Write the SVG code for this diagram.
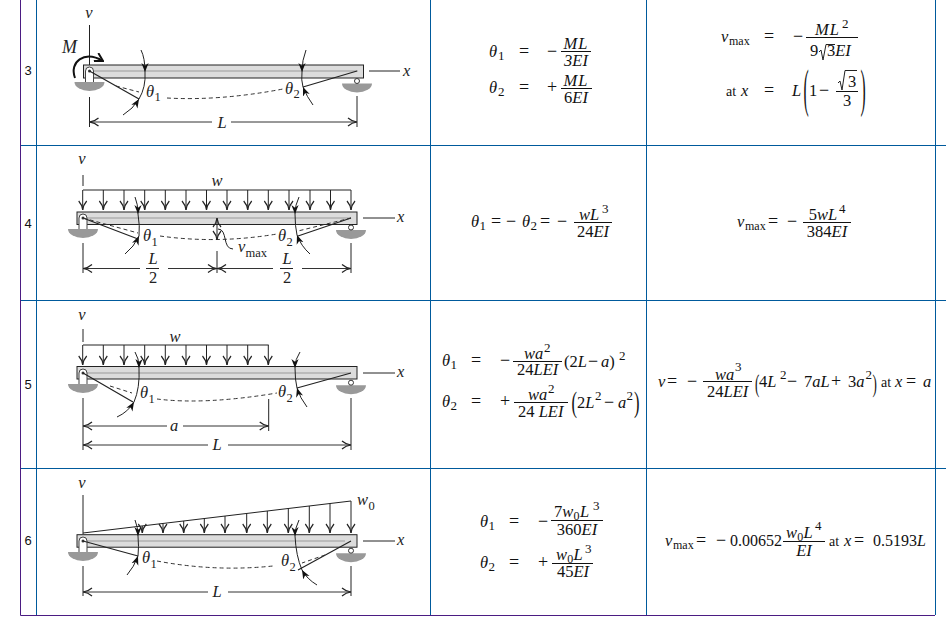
<svg xmlns="http://www.w3.org/2000/svg" xmlns:xlink="http://www.w3.org/1999/xlink" width="946" height="617" viewBox="0 0 946 617">
<style>
text{font-family:"Liberation Serif","Times New Roman",serif;fill:#111;font-size:16.5px}
.i{font-style:italic}
.c{text-anchor:middle}
.s{font-size:13px}
.m{font-size:12px}
.e{font-size:18px}
.w{font-size:16px}
.n{font-family:"Liberation Sans",Arial,sans-serif;font-size:13px}
.f{font-size:16.5px;fill:#222}
.fs{font-size:12.5px;fill:#222}
.at{font-size:14px}
.g{stroke:#005a9c;stroke-width:1;fill:none}
.p{stroke:#4b1c82;stroke-width:1;fill:none}
.bar{stroke:#111;stroke-width:1;fill:none}
.beam{fill:#dcdcdc;stroke:#222;stroke-width:1}
.mid{stroke:#9a9a9a;stroke-width:1;fill:none}
.l{stroke:#222;stroke-width:1;fill:none}
.sl{stroke:#222;stroke-width:1.2;fill:none}
.d{stroke:#333;stroke-width:1;fill:none;stroke-dasharray:4 3}
.dl{stroke:#333;stroke-width:1;fill:none;marker-end:url(#open)}
.dr{stroke:#333;stroke-width:1;fill:none;marker-start:url(#open)}
.lo{stroke:#222;stroke-width:1;fill:none;marker-end:url(#open)}
.ar{stroke:#222;stroke-width:1;fill:none;marker-end:url(#dart)}
</style>
<defs>
<marker id="open" viewBox="0 0 10 10" refX="10" refY="5" markerWidth="10" markerHeight="10" markerUnits="userSpaceOnUse" orient="auto-start-reverse"><path d="M1,1 Q5,4.5 10,5 Q5,5.5 1,9" fill="none" stroke="#222" stroke-width="1.2"/></marker>
<marker id="dart" viewBox="0 0 10 10" refX="10" refY="5" markerWidth="9" markerHeight="9" markerUnits="userSpaceOnUse" orient="auto"><path d="M0,1 L10,5 L0,9 L3,5 Z" fill="#111"/></marker>
<marker id="mom" viewBox="0 0 10 10" refX="9" refY="5" markerWidth="10" markerHeight="10" markerUnits="userSpaceOnUse" orient="auto"><path d="M1,0.5 L9,5 L1,9.5" fill="none" stroke="#111" stroke-width="2"/></marker>
<g id="pin">
<path d="M-15,11 H15 A15,9 0 0 1 -15,11 Z" fill="#999"/>
<path d="M-4,11 V0 A4,4 0 0 1 4,0 V11" fill="#fff" stroke="#444" stroke-width="1"/>
<circle r="1.5" fill="#333"/>
</g>
<g id="roller">
<path d="M-15,2.5 H15 A15,9 0 0 1 -15,2.5 Z" fill="#999"/>
<circle r="2.5" fill="#fff" stroke="#333" stroke-width="1"/>
</g>
</defs>
<rect width="946" height="617" fill="#fff"/>
<g id="grid">
<path class="g" d="M36.5,0V615M430.5,0V615M646.5,0V615M935.5,0V615M20,145.5H946M20,300.5H946M20,468.5H946"/>
<path class="p" d="M20.5,0V615.5H935"/>
</g>

<g id="row-3">
<text class="n c" x="28" y="75">3</text>
<g id="beam-3">
<rect class="beam" x="83.5" y="65" width="280" height="13"/>
<path class="mid" d="M90,71H358"/>
<use xlink:href="#pin" href="#pin" x="89.5" y="71"/>
<use xlink:href="#roller" href="#roller" x="357" y="81"/>
</g>
<g id="connectors-3">
<path class="l" d="M89.5,25V65M89.5,97V127M357,96V127M369,71H400"/>
<path class="dr" d="M89.5,122H212"/><path class="dl" d="M231,122H357"/>
<path d="M75,78C69,62 84,50 103,61" fill="none" stroke="#111" stroke-width="2" marker-end="url(#mom)"/>
<path class="sl" d="M89.5,71L139,99M357,71L303,87"/>
<path class="d" d="M116,86L139,92M167,98Q220,101 283,89"/>
<path class="ar" d="M141,50Q145,58 145,72"/><path class="ar" d="M123,115Q133,109 139,99"/><path class="l" d="M145,72Q146,87 139,99"/>
<path class="ar" d="M306,50Q302,60 302,72"/><path class="ar" d="M313,105Q307,97 303,87"/><path class="l" d="M302,72Q301,80 303,87"/>
</g>
<text class="f i c" x="89" y="18">v</text>
<text class="f i" x="62" y="53" style="font-size:18px">M</text>
<text class="f i" x="146" y="97">θ</text><text class="fs" x="154.5" y="101">1</text>
<text class="f i" x="285" y="94">θ</text><text class="fs" x="293.5" y="98">2</text>
<text class="f i c" x="222" y="128">L</text>
<text class="f i" x="403" y="76">x</text>
</g>

<g id="row-4">
<text class="n c" x="28" y="228">4</text>
<g id="beam-4">
<rect class="beam" x="77" y="212" width="280" height="12.5"/>
<path class="mid" d="M84,218H351"/>
<use xlink:href="#pin" href="#pin" x="83" y="218"/>
<use xlink:href="#roller" href="#roller" x="351" y="227.5"/>
</g>
<g id="connectors-4">
<path class="l" d="M83,175V186M83,190H351M363,218H395M83,243V273M351,243V273M217,251V273"/>
<path class="lo" d="M82.7,190V210"/><path class="lo" d="M103.3,190V210"/><path class="lo" d="M124,190V210"/><path class="lo" d="M144.7,190V210"/><path class="lo" d="M165.3,190V210"/><path class="lo" d="M186,190V210"/><path class="lo" d="M206.5,190V210"/><path class="lo" d="M227,190V210"/><path class="lo" d="M247.7,190V210"/><path class="lo" d="M268.3,190V210"/><path class="lo" d="M289,190V210"/><path class="lo" d="M310,190V210"/><path class="lo" d="M330.5,190V210"/><path class="lo" d="M351,190V210"/>
<path class="sl" d="M83,218L138,239M351,218L298,236"/>
<path class="d" d="M83,218L138,233M160,236Q217,244 277,234M351,218L298,231"/>
<path class="lo" d="M217,229V218"/><path class="lo" d="M217,229V240"/>
<path class="l" d="M218,229C228,229 222,249 233,249"/>
<path class="ar" d="M135,197Q138,204 138,214"/><path class="ar" d="M125,254Q134,247 139,236"/><path class="l" d="M138,214Q140,226 139,236"/>
<path class="ar" d="M299,197Q295,205 295,214"/><path class="ar" d="M310,254Q301,246 297,235"/><path class="l" d="M295,214Q295,226 297,235"/>
<path class="dr" d="M83,268.5H140"/><path class="dl" d="M168,268.5H217"/><path class="dr" d="M217,268.5H273"/><path class="dl" d="M302,268.5H351"/>
<path class="l" d="M146,268.5H159M280,268.5H293"/>
</g>
<text class="f i c" x="82" y="164">v</text>
<text class="f i c" x="217" y="186">w</text>
<text class="f i" x="143" y="241">θ</text><text class="fs" x="151.5" y="246">1</text>
<text class="f i" x="278" y="241">θ</text><text class="fs" x="286.5" y="246">2</text>
<text class="f i" x="238" y="252">v</text><text class="fs" x="245.5" y="257">max</text>
<text class="f i c" x="153" y="264">L</text><text class="f c" x="153" y="283">2</text>
<text class="f i c" x="287" y="264">L</text><text class="f c" x="287" y="283">2</text>
<text class="f i" x="397" y="222">x</text>
</g>

<g id="row-5">
<text class="n c" x="28" y="389">5</text>
<g id="beam-5">
<rect class="beam" x="77" y="366.5" width="280" height="12.5"/>
<path class="mid" d="M84,373H351"/>
<use xlink:href="#pin" href="#pin" x="83" y="373"/>
<use xlink:href="#roller" href="#roller" x="351" y="382.7"/>
</g>
<g id="connectors-5">
<path class="l" d="M83,329V342M83,345H268.7M363,373H395M83,398V450M351,398V450M268.7,399V431"/>
<path class="lo" d="M82.7,345V365"/><path class="lo" d="M103.3,345V365"/><path class="lo" d="M124,345V365"/><path class="lo" d="M144.7,345V365"/><path class="lo" d="M165.3,345V365"/><path class="lo" d="M186,345V365"/><path class="lo" d="M206.5,345V365"/><path class="lo" d="M227,345V365"/><path class="lo" d="M247.7,345V365"/><path class="lo" d="M268.3,345V365"/>
<path class="sl" d="M83,373L133,402M351,373L297,388"/>
<path class="d" d="M110,386L132,393M157,399Q205,405 277,393"/>
<path class="ar" d="M135,352Q139,358 139,368"/><path class="ar" d="M117,417Q128,412 134,402"/><path class="l" d="M139,368Q140,388 134,402"/>
<path class="ar" d="M300,352Q295,359 295,368"/><path class="ar" d="M307,407Q300,398 297,388"/><path class="l" d="M295,368Q295,380 297,388"/>
<path class="dr" d="M83,426H167"/><path class="dl" d="M183,426H268.7"/>
<path class="dr" d="M83,445H208"/><path class="dl" d="M228,445H351"/>
</g>
<text class="f i c" x="82" y="320">v</text>
<text class="f i c" x="175" y="342">w</text>
<text class="f i" x="140" y="398">θ</text><text class="fs" x="148.5" y="403">1</text>
<text class="f i" x="278" y="397">θ</text><text class="fs" x="286.5" y="402">2</text>
<text class="f i c" x="174" y="431">a</text>
<text class="f i c" x="217" y="450">L</text>
<text class="f i" x="397" y="377">x</text>
</g>

<g id="row-6">
<text class="n c" x="28" y="545">6</text>
<g id="beam-6">
<rect class="beam" x="77" y="534.7" width="280" height="12.5"/>
<path class="mid" d="M84,541H345"/>
<use xlink:href="#pin" href="#pin" x="83" y="541"/>
<use xlink:href="#roller" href="#roller" x="351" y="550.7"/>
</g>
<g id="connectors-6">
<path class="l" d="M83,495V534M83,533L351,501M363,541H395M83,566V596M351,566V596"/>
<path class="lo" d="M142.3,526V533"/><path class="lo" d="M163,523.5V533"/><path class="lo" d="M183.7,521V533"/><path class="lo" d="M204.3,518.5V533"/><path class="lo" d="M225,516V533"/><path class="lo" d="M246.7,513.5V533"/><path class="lo" d="M267.3,511V533"/><path class="lo" d="M288.3,508.5V533"/><path class="lo" d="M309.3,506V533"/><path class="lo" d="M330,503.5V533"/><path class="lo" d="M351,501V533"/>
<path class="sl" d="M83,541L138,556M351,541L298,570"/>
<path class="d" d="M157,561Q215,572 273,566M325,555L302,563"/>
<path class="ar" d="M135,520Q138,527 138,536"/><path class="ar" d="M127,575Q134,567 138,556"/><path class="l" d="M138,536Q139,547 138,556"/>
<path class="ar" d="M299,520Q295,528 295,536"/><path class="ar" d="M317,585Q307,579 302,570"/><path class="l" d="M295,536Q296,556 302,570"/>
<path class="dr" d="M83,592H208"/><path class="dl" d="M228,592H351"/>
</g>
<text class="f i c" x="82" y="488">v</text>
<text class="f i" x="357" y="505">w</text><text class="fs" x="368.5" y="510">0</text>
<text class="f i" x="142" y="563">θ</text><text class="fs" x="150.5" y="568">1</text>
<text class="f i" x="281" y="566">θ</text><text class="fs" x="289.5" y="571">2</text>
<text class="f i c" x="217" y="597">L</text>
<text class="f i" x="397" y="545">x</text>
</g>

<g id="formula-3-slope">
<text class="i" x="489" y="57">θ</text><text class="s" x="498" y="60">1</text>
<text class="e" x="519" y="57">=</text><text class="e" x="547" y="57">−</text>
<path class="bar" d="M561,51.5H591"/>
<text class="i c" x="576" y="49" style="letter-spacing:1px">ML</text>
<text class="i c" x="576" y="66">3EI</text>
<text class="i" x="489" y="93">θ</text><text class="s" x="498" y="96">2</text>
<text class="e" x="519" y="93">=</text><text class="e" x="547" y="93">+</text>
<path class="bar" d="M561,88.5H592"/>
<text class="i c" x="576" y="86" style="letter-spacing:1px">ML</text>
<text class="c" x="576" y="103">6<tspan class="i">EI</tspan></text>
</g>
<g id="formula-3-max">
<text class="i" x="721" y="42">v</text><text class="m" x="729" y="45">max</text>
<text class="e" x="764" y="42">=</text><text class="e" x="793" y="42">−</text>
<path class="bar" d="M806,37.5H858"/>
<text class="i" x="815" y="35" style="letter-spacing:1px">ML</text><text class="s" x="842" y="28">2</text>
<text x="810" y="56">9</text>
<path class="l" d="M819,52L821,50L823,60L826,44.5H835"/>
<text x="827" y="56">3<tspan class="i">EI</tspan></text>
<text class="at" x="726" y="96">at</text><text class="i" x="741" y="96">x</text>
<text class="e" x="764" y="96">=</text><text class="i" x="792" y="96">L</text>
<text transform="translate(803.5,106) scale(0.3,1)" style="font-size:52px">(</text>
<text x="809" y="96">1</text><text class="e" x="819" y="96">−</text>
<path class="bar" d="M836,91.5H858"/>
<path class="l" d="M838,83L840,81L842,90L845,70.5H857"/>
<text x="848" y="87">3</text><text class="c" x="847" y="106">3</text>
<text transform="translate(860.5,106) scale(0.3,1)" style="font-size:52px">)</text>
</g>

<g id="formula-4-slope">
<text class="i" x="471" y="227">θ</text><text class="s" x="479.5" y="230">1</text>
<text class="e" x="491" y="227">=</text><text class="e" x="506" y="227">−</text>
<text class="i" x="522" y="227">θ</text><text class="s" x="530.5" y="230">2</text>
<text class="e" x="540" y="227">=</text><text class="e" x="557" y="227">−</text>
<path class="bar" d="M574,222.5H612"/>
<text class="i" x="579" y="220">wL</text><text class="s" x="602" y="213">3</text>
<text class="c" x="593" y="237">24<tspan class="i">EI</tspan></text>
</g>
<g id="formula-4-max">
<text class="i" x="737" y="227">v</text><text class="m" x="745" y="230">max</text>
<text class="e" x="768" y="227">=</text><text class="e" x="787" y="227">−</text>
<path class="bar" d="M803,222.5H851"/>
<text class="c" x="823" y="220">5<tspan class="i">wL</tspan></text><text class="s" x="839" y="213">4</text>
<text class="c" x="827" y="237">384<tspan class="i">EI</tspan></text>
</g>

<g id="formula-5-slope">
<text class="i" x="442" y="366">θ</text><text class="s" x="450.5" y="369">1</text>
<text class="e" x="471" y="366">=</text><text class="e" x="500" y="366">−</text>
<path class="bar" d="M513,361.5H562"/>
<text class="i" x="524" y="359">wa</text><text class="s" x="544" y="352">2</text>
<text x="517" y="375">24<tspan class="i">LEI</tspan></text>
<text x="564" y="367">(2<tspan class="i">L</tspan></text><text class="e" x="588" y="367">−</text><text x="601" y="367"><tspan class="i">a</tspan>)</text><text class="s" x="619" y="360">2</text>
<text class="i" x="442" y="407">θ</text><text class="s" x="450.5" y="410">2</text>
<text class="e" x="471" y="407">=</text><text class="e" x="500" y="407">+</text>
<path class="bar" d="M514,402.5H568"/>
<text class="i" x="528" y="400">wa</text><text class="s" x="548" y="393">2</text>
<text x="518" y="417">24 <tspan class="i">LEI</tspan></text>
<text transform="translate(571.5,412) scale(0.55,1)" style="font-size:30px">(</text>
<text x="577" y="408">2<tspan class="i">L</tspan></text><text class="s" x="595" y="400">2</text>
<text class="e" x="604" y="408">−</text><text class="i" x="618" y="408">a</text><text class="s" x="626.5" y="400">2</text>
<text transform="translate(634,412) scale(0.55,1)" style="font-size:30px">)</text>
</g>
<g id="formula-5-max">
<text class="i" x="658" y="387">v</text><text class="e" x="667" y="387">=</text><text class="e" x="687" y="387">−</text>
<path class="bar" d="M703,381.5H752"/>
<text class="i" x="715" y="380">wa</text><text class="s" x="735" y="371">3</text>
<text x="707" y="397">24<tspan class="i">LEI</tspan></text>
<text transform="translate(755,392) scale(0.5,1)" style="font-size:26px">(</text>
<text x="759" y="387">4<tspan class="i">L</tspan></text><text class="s" x="780" y="379">2</text>
<text class="e" x="787" y="387">−</text><text x="804" y="387">7<tspan class="i">aL</tspan></text>
<text class="e" x="831" y="387">+</text><text x="848" y="387">3<tspan class="i">a</tspan></text><text class="s" x="865.5" y="379">2</text>
<text transform="translate(872.5,392) scale(0.5,1)" style="font-size:26px">)</text>
<text class="at" x="881" y="387">at</text><text class="i" x="895" y="387">x</text>
<text class="e" x="906" y="387">=</text><text class="i" x="923" y="387">a</text>
</g>

<g id="formula-6-slope">
<text class="i" x="480" y="527">θ</text><text class="s" x="488.5" y="530">1</text>
<text class="e" x="509" y="527">=</text><text class="e" x="538" y="527">−</text>
<path class="bar" d="M551,520.5H603"/>
<text x="554" y="517">7<tspan class="i">w</tspan></text><text class="m" x="573.5" y="520">0</text><text class="i" x="580" y="517">L</text><text class="s" x="593" y="510">3</text>
<text class="c" x="577" y="535">360<tspan class="i">EI</tspan></text>
<text class="i" x="480" y="568">θ</text><text class="s" x="488.5" y="571">2</text>
<text class="e" x="509" y="568">=</text><text class="e" x="538" y="568">+</text>
<path class="bar" d="M552,563.5H593"/>
<text class="i" x="556" y="560">w</text><text class="m" x="567.2" y="563">0</text><text class="i" x="573.5" y="560">L</text><text class="s" x="585" y="553">3</text>
<text class="c" x="573" y="577">45<tspan class="i">EI</tspan></text>
</g>
<g id="formula-6-max">
<text class="i" x="665" y="546">v</text><text class="m" x="673" y="549">max</text>
<text class="e" x="696" y="546">=</text><text class="e" x="716" y="546">−</text>
<text class="w" x="730" y="546">0.00652</text>
<path class="bar" d="M783,541.5H825"/>
<text class="i" x="786" y="538">w</text><text class="m" x="797.2" y="541">0</text><text class="i" x="803.5" y="538">L</text><text class="s" x="815" y="530">4</text>
<text class="i c" x="804" y="556">EI</text>
<text class="at" x="829" y="546">at</text><text class="i" x="844" y="546">x</text>
<text class="e" x="854" y="546">=</text><text class="w" x="873" y="546">0.5193<tspan class="i">L</tspan></text>
</g>
</svg>
